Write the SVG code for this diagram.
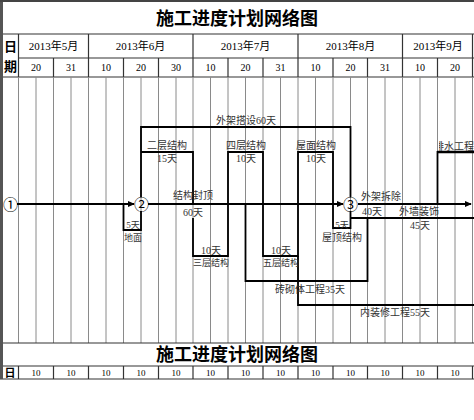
<svg xmlns="http://www.w3.org/2000/svg" width="474" height="420" viewBox="0 0 474 420">
<defs>
<marker id="arr" viewBox="0 0 8 8" refX="7" refY="4" markerWidth="7" markerHeight="7" markerUnits="userSpaceOnUse" orient="auto">
<path d="M0,0.5 L8,4 L0,7.5 Z" fill="#000"/>
</marker>
<clipPath id="cellclip"><rect x="439" y="130" width="35" height="22"/></clipPath>
</defs>
<style>
.grid{stroke:#8a8a8a;stroke-width:1;fill:none}
.frame{stroke:#333;stroke-width:1.2;fill:none}
.net{stroke:#000;stroke-width:1.8;fill:none}
.title{font-family:"Noto Sans CJK SC","Liberation Serif",sans-serif;font-weight:bold;font-size:18px;fill:#000;text-anchor:middle}
.hd{font-family:"Liberation Serif","Noto Sans CJK SC",serif;font-size:11px;fill:#000;text-anchor:middle}
.dy{font-family:"Liberation Serif","Noto Sans CJK SC",serif;font-size:10px;fill:#000;text-anchor:middle}
.lbl{font-family:"Liberation Serif","Noto Sans CJK SC",serif;font-size:10px;fill:#333;text-anchor:middle}
.sm{font-family:"Liberation Serif","Noto Sans CJK SC",serif;font-size:9px;fill:#333;text-anchor:middle}
.node{font-family:"Noto Sans CJK SC","DejaVu Sans",sans-serif;font-size:15px;fill:#000;text-anchor:middle}
</style>
<rect x="0" y="0" width="474" height="420" fill="#fff"/>

<!-- header -->
<g id="header">
<text class="title" x="237" y="25">施工进度计划网络图</text>
<path class="frame" d="M0,34 H474 M18.5,58 H474 M0,77 H474"/>
<path class="frame" d="M18.5,34 V77 M88.5,34 V77 M193,34 V77 M298,34 V77 M402.5,34 V77"/>
<path class="frame" d="M53.5,58 V77 M123.5,58 V77 M158.5,58 V77 M228,58 V77 M263,58 V77 M333,58 V77 M367.5,58 V77 M437.5,58 V77 M472.5,34 V77"/>
<text class="title" style="font-size:13px" x="10.5" y="51">日</text>
<text class="title" style="font-size:13px" x="10.5" y="71">期</text>
<text class="hd" x="53.5" y="50">2013年5月</text>
<text class="hd" x="140.5" y="50">2013年6月</text>
<text class="hd" x="245.5" y="50">2013年7月</text>
<text class="hd" x="350.5" y="50">2013年8月</text>
<text class="hd" x="438" y="50">2013年9月</text>
<text class="dy" x="36" y="71">20</text>
<text class="dy" x="71" y="71">31</text>
<text class="dy" x="106" y="71">10</text>
<text class="dy" x="141" y="71">20</text>
<text class="dy" x="176" y="71">30</text>
<text class="dy" x="210.5" y="71">10</text>
<text class="dy" x="245.5" y="71">20</text>
<text class="dy" x="280.5" y="71">31</text>
<text class="dy" x="315.5" y="71">10</text>
<text class="dy" x="350.5" y="71">20</text>
<text class="dy" x="385" y="71">31</text>
<text class="dy" x="420" y="71">10</text>
<text class="dy" x="455" y="71">20</text>
</g>

<!-- body grid -->
<g id="grid">
<path class="grid" d="M18.5,77 V343 M36,77 V343 M53.5,77 V343 M71,77 V343 M88.5,77 V343 M106,77 V343 M123.5,77 V343 M141,77 V343 M158.5,77 V343 M176,77 V343 M193,77 V343 M210.5,77 V343 M228,77 V343 M245.5,77 V343 M263,77 V343 M280.5,77 V343 M298,77 V343 M315.5,77 V343 M333,77 V343 M350.5,77 V343 M367.5,77 V343 M385,77 V343 M402.5,77 V343 M420,77 V343 M437.5,77 V343 M455,77 V343 M472.5,77 V343"/>
</g>

<!-- connectors -->
<g id="connectors">
<path class="net" d="M17,204 H134" marker-end="url(#arr)"/>
<path class="net" d="M148,204 H343" marker-end="url(#arr)"/>
<path class="net" d="M358,204 H471" marker-end="url(#arr)"/>
<path class="net" d="M141,197 V127 H350.5 V197"/>
<path class="net" d="M141,152 H193 V204"/>
<path class="net" d="M193,218 V256 H228 V152 H263 V256 H298 V152 H333 V228 H350.5 V211"/>
<path class="net" d="M123.5,204 V230 H141 V211"/>
<path class="net" d="M245.5,204 V281 H367.5 V218"/>
<path class="net" d="M350.5,218 H474"/>
<path class="net" d="M298,256 V305 H474"/>
<path class="net" d="M437.5,204 V152 H474" />
<path class="net" style="stroke-width:2.6" d="M437.5,152 H474"/>
</g>

<!-- nodes -->
<g id="node1"><text class="node" x="10.5" y="209.5">①</text></g>
<g id="node2"><text class="node" x="141.5" y="209.5">②</text></g>
<g id="node3"><text class="node" x="350.5" y="209.5">③</text></g>

<!-- labels -->
<g id="labels">
<text class="lbl" x="246" y="124">外架搭设60天</text>
<text class="lbl" x="167" y="149">二层结构</text>
<text class="lbl" x="167" y="162">15天</text>
<text class="lbl" x="246" y="149">四层结构</text>
<text class="lbl" x="246" y="162">10天</text>
<text class="lbl" x="316" y="149">屋面结构</text>
<text class="lbl" x="316" y="162">10天</text>
<text class="lbl" style="text-anchor:start" x="434" y="150" clip-path="url(#cellclip)">排水工程</text>
<text class="lbl" x="193" y="199">结构封顶</text>
<text class="lbl" x="193" y="216">60天</text>
<text class="sm" x="133" y="228">5天</text>
<text class="sm" x="133" y="241">地面</text>
<text class="lbl" x="211" y="254">10天</text>
<text class="sm" x="211" y="266">三层结构</text>
<text class="lbl" x="281" y="254">10天</text>
<text class="sm" x="281" y="266">五层结构</text>
<text class="sm" x="342" y="228">5天</text>
<text class="lbl" x="342" y="241">屋顶结构</text>
<text class="lbl" x="381" y="200">外架拆除</text>
<text class="lbl" x="372" y="215">40天</text>
<text class="lbl" x="419" y="215">外墙装饰</text>
<text class="lbl" x="420" y="229">45天</text>
<text class="lbl" x="310" y="293">砖砌体工程35天</text>
<text class="lbl" x="395" y="316">内装修工程55天</text>
</g>

<!-- footer -->
<g id="footer">
<path class="frame" d="M0,343 H474 M0,366 H474 M0,379 H474"/>
<path class="frame" d="M18.5,366 V379 M53.5,366 V379 M88.5,366 V379 M123.5,366 V379 M158.5,366 V379 M193,366 V379 M228,366 V379 M263,366 V379 M298,366 V379 M333,366 V379 M367.5,366 V379 M402.5,366 V379 M437.5,366 V379 M472.5,366 V379"/>
<text class="title" x="237" y="361">施工进度计划网络图</text>
<text class="title" style="font-size:11px" x="10" y="377">日</text>
<text class="sm" style="fill:#000" x="36" y="376">10</text>
<text class="sm" style="fill:#000" x="71" y="376">10</text>
<text class="sm" style="fill:#000" x="106" y="376">10</text>
<text class="sm" style="fill:#000" x="141" y="376">10</text>
<text class="sm" style="fill:#000" x="176" y="376">10</text>
<text class="sm" style="fill:#000" x="210.5" y="376">10</text>
<text class="sm" style="fill:#000" x="245.5" y="376">10</text>
<text class="sm" style="fill:#000" x="280.5" y="376">10</text>
<text class="sm" style="fill:#000" x="315.5" y="376">10</text>
<text class="sm" style="fill:#000" x="350.5" y="376">10</text>
<text class="sm" style="fill:#000" x="385" y="376">10</text>
<text class="sm" style="fill:#000" x="420" y="376">10</text>
<text class="sm" style="fill:#000" x="455" y="376">10</text>
</g>

<!-- outer borders -->
<path d="M1.5,0 V379" stroke="#555" stroke-width="3" fill="none"/>
<path d="M0,1 H474" stroke="#444" stroke-width="2" fill="none"/>
</svg>
